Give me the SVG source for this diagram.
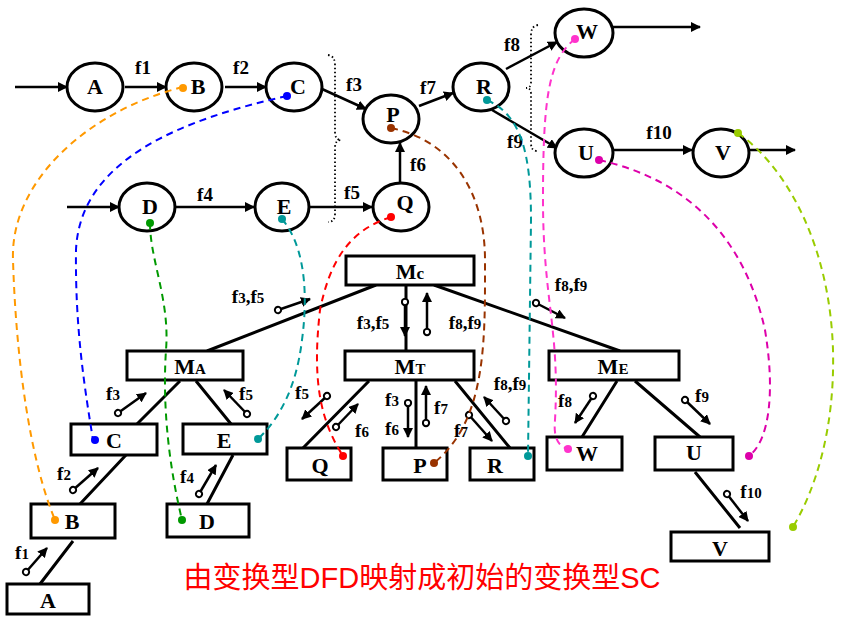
<svg xmlns="http://www.w3.org/2000/svg" width="844" height="628" viewBox="0 0 844 628">
<style>
.n{fill:#fff;stroke:#000;stroke-width:3}
.t{font-family:"Liberation Serif","Times New Roman","DejaVu Serif",serif;font-weight:bold;font-size:22px;text-anchor:middle}
.l{font-family:"Liberation Serif","Times New Roman","DejaVu Serif",serif;font-weight:bold;font-size:19px;text-anchor:middle}
.s{font-size:15px}
.e{stroke:#000;stroke-width:3;fill:none}
.a{stroke:#000;stroke-width:2.5;fill:none;marker-end:url(#ah)}
.f{stroke:#000;stroke-width:2.5;fill:none;marker-start:url(#tail);marker-end:url(#ah)}
.d{fill:none;stroke-width:2;stroke-dasharray:7,5}
.br{fill:none;stroke:#000;stroke-width:1.8;stroke-dasharray:1.5,2.5}
</style>
<defs>
<marker id="ah" viewBox="0 0 10 10" refX="9" refY="5" markerWidth="4" markerHeight="4" orient="auto"><path d="M0,0L10,5L0,10z" fill="#000"/></marker>
<marker id="tail" viewBox="0 0 10 10" refX="5" refY="5" markerWidth="3.6" markerHeight="3.6" orient="auto"><circle cx="5" cy="5" r="3.5" fill="#fff" stroke="#000" stroke-width="2.2"/></marker>
</defs>
<rect width="844" height="628" fill="#fff"/>
<g id="connectors">
<path class="a" d="M15,87H67"/><path class="a" d="M125,87H166"/><path class="a" d="M225,87H266"/>
<path class="a" d="M322,89L366,109"/><path class="a" d="M400,183V143"/><path class="a" d="M419,106L453,93"/>
<path class="a" d="M506,69L557,42"/><path class="a" d="M492,110L557,148"/><path class="a" d="M613,27H700"/>
<path class="a" d="M613,150H692"/><path class="a" d="M749,150H795"/>
<path class="a" d="M67,207H119"/><path class="a" d="M174,207H254"/><path class="a" d="M309,207H372"/>
<path class="br" d="M328,55Q335,56 335,65V132Q335,140 341,140Q335,140 335,148V214Q335,222 328,222"/>
<path class="br" d="M538,25Q531,26 531,35V82Q531,88 526,88Q531,88 531,94V143Q531,151 537,151"/>
<path class="e" d="M376,285L207,351M406,285V351M434,285L620,351M180,381L137,424M196,381L231,424M126,455L80,504M233,455L207,504M73,541L40,584M369,381L303,448M416,381V448M455,381L510,448M617,381L582,437M635,381L700,437M695,472L740,528"/>
<path class="f" d="M278,310L310,299"/><path class="f" d="M405,302V336"/><path class="f" d="M427,332V293"/>
<path class="f" d="M536,303L565,318"/><path class="f" d="M118,413L146,393"/><path class="f" d="M247,414L224,390"/>
<path class="f" d="M73,490L98,468"/><path class="f" d="M199,494L216,465"/><path class="f" d="M26,572L47,548"/>
<path class="f" d="M327,396L302,419"/><path class="f" d="M336,427L358,404"/><path class="f" d="M408,403V437"/>
<path class="f" d="M426,423V386"/><path class="f" d="M469,415L492,441"/><path class="f" d="M506,421L484,397"/>
<path class="f" d="M593,396L575,423"/><path class="f" d="M685,400L710,424"/><path class="f" d="M727,494L748,521"/>
</g>
<g id="top-nodes">
<g id="nA"><ellipse class="n" cx="95" cy="87" rx="28" ry="24"/><text class="t" x="95" y="94">A</text></g>
<g id="nB"><ellipse class="n" cx="194" cy="87" rx="28" ry="24"/><text class="t" x="198" y="94">B</text></g>
<g id="nC"><ellipse class="n" cx="294" cy="87" rx="28" ry="24"/><text class="t" x="298" y="94">C</text></g>
<g id="nP"><ellipse class="n" cx="391" cy="119" rx="28" ry="24"/><text class="t" x="393" y="122">P</text></g>
<g id="nR"><ellipse class="n" cx="481" cy="87" rx="28" ry="24"/><text class="t" x="484" y="94">R</text></g>
<g id="nW"><ellipse class="n" cx="584" cy="33" rx="29" ry="24"/><text class="t" x="587" y="39">W</text></g>
<g id="nU"><ellipse class="n" cx="584" cy="153" rx="29" ry="24"/><text class="t" x="586" y="160">U</text></g>
<g id="nV"><ellipse class="n" cx="721" cy="153" rx="28" ry="24"/><text class="t" x="723" y="160">V</text></g>
<g id="nD"><ellipse class="n" cx="147" cy="207" rx="28" ry="24"/><text class="t" x="150" y="214">D</text></g>
<g id="nE"><ellipse class="n" cx="282" cy="207" rx="27" ry="24"/><text class="t" x="284" y="214">E</text></g>
<g id="nQ"><ellipse class="n" cx="401" cy="207" rx="28" ry="24"/><text class="t" x="405" y="210">Q</text></g>
</g>
<g id="flow-labels" class="l">
<text x="143" y="74">f1</text><text x="241" y="74">f2</text><text x="354" y="91">f3</text><text x="428" y="94">f7</text>
<text x="512" y="51">f8</text><text x="515" y="148">f9</text><text x="659" y="139">f10</text>
<text x="205" y="201">f4</text><text x="352" y="199">f5</text><text x="418" y="171">f6</text>
</g>
<g id="tree-nodes">
<g id="Mc"><rect class="n" x="346" y="256" width="128" height="29"/><text class="t" x="410" y="279">M<tspan font-size="17">c</tspan></text></g>
<g id="MA"><rect class="n" x="127" y="351" width="116" height="29"/><text class="t" x="190" y="374">M<tspan font-size="15">A</tspan></text></g>
<g id="MT"><rect class="n" x="345" y="351" width="129" height="29"/><text class="t" x="410" y="374">M<tspan font-size="15">T</tspan></text></g>
<g id="ME"><rect class="n" x="549" y="351" width="130" height="29"/><text class="t" x="613" y="374">M<tspan font-size="15">E</tspan></text></g>
<g id="tC"><rect class="n" x="71" y="424" width="86" height="31"/><text class="t" x="114" y="448">C</text></g>
<g id="tE"><rect class="n" x="183" y="424" width="84" height="30"/><text class="t" x="224" y="448">E</text></g>
<g id="tB"><rect class="n" x="31" y="504" width="84" height="34"/><text class="t" x="72" y="529">B</text></g>
<g id="tD"><rect class="n" x="167" y="504" width="82" height="33"/><text class="t" x="207" y="529">D</text></g>
<g id="tA"><rect class="n" x="7" y="584" width="82" height="30"/><text class="t" x="48" y="608">A</text></g>
<g id="tQ"><rect class="n" x="287" y="448" width="64" height="32"/><text class="t" x="320" y="473">Q</text></g>
<g id="tP"><rect class="n" x="383" y="448" width="64" height="32"/><text class="t" x="420" y="473">P</text></g>
<g id="tR"><rect class="n" x="470" y="448" width="64" height="32"/><text class="t" x="495" y="473">R</text></g>
<g id="tW"><rect class="n" x="547" y="437" width="75" height="33"/><text class="t" x="587" y="461">W</text></g>
<g id="tU"><rect class="n" x="655" y="437" width="78" height="33"/><text class="t" x="694" y="460">U</text></g>
<g id="tV"><rect class="n" x="671" y="532" width="98" height="29"/><text class="t" x="720" y="556">V</text></g>
</g>
<g id="tree-labels" class="l">
<text x="248" y="303">f<tspan class="s">3</tspan>,f<tspan class="s">5</tspan></text>
<text x="373" y="329">f<tspan class="s">3</tspan>,f<tspan class="s">5</tspan></text>
<text x="465" y="329">f<tspan class="s">8</tspan>,f<tspan class="s">9</tspan></text>
<text x="571" y="291">f<tspan class="s">8</tspan>,f<tspan class="s">9</tspan></text>
<text x="113" y="400">f<tspan class="s">3</tspan></text><text x="246" y="400">f<tspan class="s">5</tspan></text>
<text x="64" y="480">f<tspan class="s">2</tspan></text><text x="187" y="483">f<tspan class="s">4</tspan></text>
<text x="22" y="559">f<tspan class="s">1</tspan></text>
<text x="302" y="399">f<tspan class="s">5</tspan></text><text x="362" y="437">f<tspan class="s">6</tspan></text>
<text x="392" y="406">f<tspan class="s">3</tspan></text><text x="392" y="435">f<tspan class="s">6</tspan></text>
<text x="441" y="414">f<tspan class="s">7</tspan></text><text x="461" y="437">f<tspan class="s">7</tspan></text>
<text x="510" y="390">f<tspan class="s">8</tspan>,f<tspan class="s">9</tspan></text>
<text x="565" y="407">f<tspan class="s">8</tspan></text><text x="702" y="402">f<tspan class="s">9</tspan></text>
<text x="751" y="498">f<tspan class="s">10</tspan></text>
</g>
<g id="mapping">
<path class="d" stroke="#f90" d="M183,87C90,110 10,180 13,260C16,360 30,460 55,520"/><circle cx="183" cy="88" r="4" fill="#f90"/><circle cx="55" cy="520" r="4" fill="#f90"/>
<path class="d" stroke="#00f" d="M287,96C180,120 80,160 76,250C75,330 85,390 93,440"/><circle cx="287" cy="96" r="4" fill="#00f"/><circle cx="95" cy="440" r="4" fill="#00f"/>
<path class="d" stroke="#090" d="M150,223C150,260 170,300 166,350C162,410 170,470 182,520"/><circle cx="150" cy="223" r="4" fill="#090"/><circle cx="182" cy="520" r="4" fill="#090"/>
<path class="d" stroke="#099" d="M282,219C300,240 310,280 302,340C296,390 278,420 258,439"/><circle cx="282" cy="219" r="4" fill="#099"/><circle cx="258" cy="439" r="4" fill="#099"/>
<path class="d" stroke="#f00" d="M391,217C350,230 330,260 320,310C312,380 320,420 343,456"/><circle cx="391" cy="217" r="4" fill="#f00"/><circle cx="343" cy="456" r="4" fill="#f00"/>
<path class="d" stroke="#930" d="M391,128C450,140 485,190 485,260C485,340 487,420 434,463"/><circle cx="391" cy="128" r="4" fill="#930"/><circle cx="434" cy="463" r="4" fill="#930"/>
<path class="d" stroke="#099" d="M487,100C520,115 531,150 531,220L528,456"/><circle cx="487" cy="100" r="4" fill="#099"/><circle cx="528" cy="456" r="4" fill="#099"/>
<path class="d" stroke="#f3c" d="M575,39C548,60 543,100 543,200C543,300 560,330 555,420C553,440 560,447 568,449"/><circle cx="575" cy="39" r="4" fill="#f3c"/><circle cx="568" cy="449" r="4" fill="#f3c"/>
<path class="d" stroke="#d0a" d="M599,160C690,180 745,240 765,330C775,390 770,440 749,456"/><circle cx="599" cy="160" r="4" fill="#d0a"/><circle cx="749" cy="456" r="4" fill="#d0a"/>
<path class="d" stroke="#9c0" d="M738,133C790,170 830,250 833,350C835,430 815,490 793,527"/><circle cx="738" cy="133" r="4" fill="#9c0"/><circle cx="793" cy="527" r="4" fill="#9c0"/>
</g>
<text x="422" y="588" fill="#f00" font-family="'Liberation Sans','Noto Sans CJK SC',sans-serif" font-size="29" text-anchor="middle">由变换型DFD映射成初始的变换型SC</text>
</svg>
